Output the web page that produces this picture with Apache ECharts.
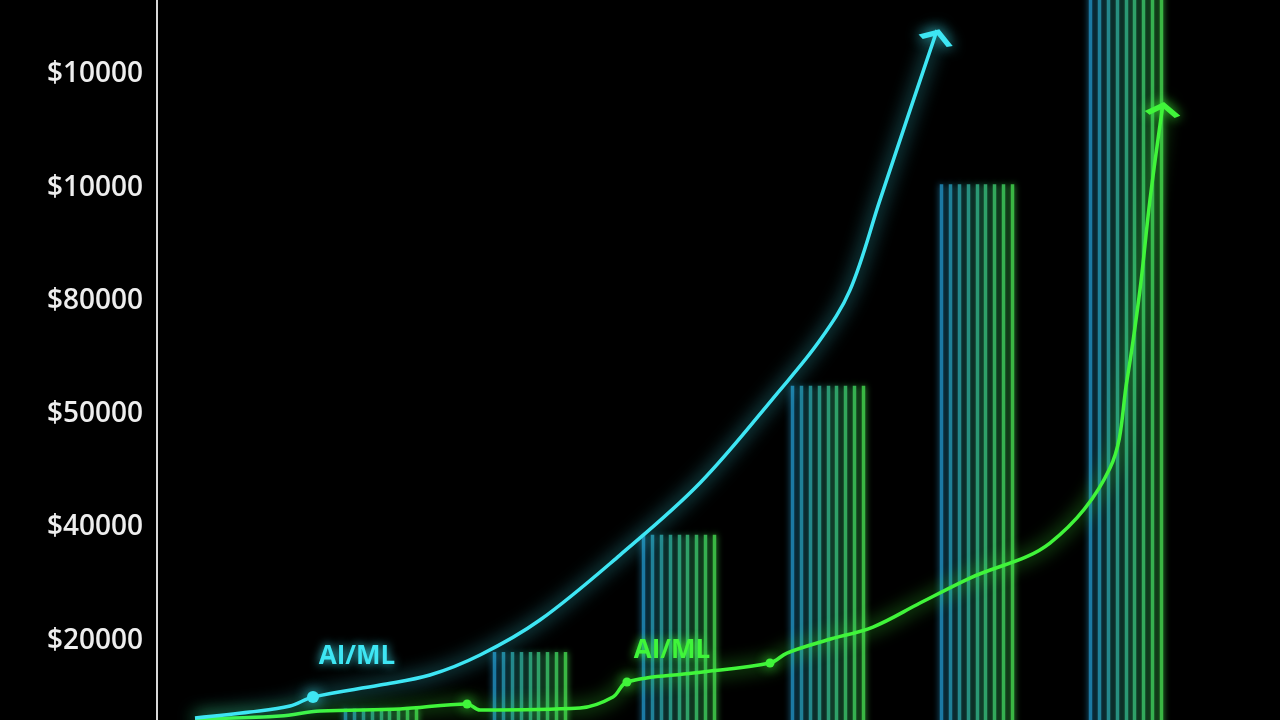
<!DOCTYPE html>
<html>
<head>
<meta charset="utf-8">
<script src="https://cdn.jsdelivr.net/npm/echarts@6/dist/echarts.min.js"></script>
<style>
html,body{margin:0;padding:0;background:#000;}
#chart{width:1280px;height:720px;}
</style>
</head>
<body>
<div id="chart"></div>
<script>
// ---- data ----
const categories = ['2018', '2019', '2020', '2021', '2022', '2023', '2024'];
const barValues = [0, 8000, 18000, 38700, 65000, 100600, 140000];
const yTickLabels = ['$0', '$20000', '$40000', '$50000', '$80000', '$10000', '$10000', ''];

const cyanX = [-0.245, 0.124, 0.393, 0.547, 0.997, 1.332, 1.668, 2.070, 2.607, 3.144, 3.681, 3.950, 4.151, 4.352, 4.554, 4.735];
const cyanY = [6350, 7410, 8470, 10060, 12180, 13940, 17470, 23650, 35120, 47830, 64250, 73070, 81900, 97780, 113670, 127790];
const cyanMarkers = [3];

const greenX = [-0.245, 0.326, 0.594, 1.131, 1.581, 1.668, 2.339, 2.560, 2.654, 3.100, 3.614, 3.728, 3.997, 4.305, 4.621, 4.956, 5.493, 5.896, 6.010, 6.097, 6.164, 6.252];
const greenY = [6180, 6710, 7590, 7940, 8830, 7770, 8120, 10060, 12710, 14300, 16060, 17830, 20120, 22420, 26650, 31060, 37240, 50480, 66010, 81900, 97780, 114900];
const greenMarkers = [4, 8, 10];

const seriesName = 'AI/ML';

// ---- styles ----
const CYAN = '#3ee6f4';
const GREEN = '#40f53a';
const STRIPE_FROM = [30, 125, 170];
const STRIPE_TO = [60, 190, 70];
const ARROW = 'path://M0,10 L10,0 L20,10 L17,12.5 L10,5.5 L3,12.5 Z';

function mix(a, b, t) {
  return 'rgb(' + a.map((v, i) => Math.round(v + (b[i] - v) * t)).join(',') + ')';
}

function buildLine(xs, ys, markers, markerSize, arrowRotate) {
  return xs.map((x, i) => {
    const item = { value: [x, ys[i]] };
    if (markers.indexOf(i) >= 0) {
      item.symbol = 'circle';
      item.symbolSize = markerSize;
    }
    if (i === xs.length - 1) {
      item.symbol = ARROW;
      item.symbolSize = [36, 23];
      item.symbolKeepAspect = true;
      item.symbolRotate = arrowRotate;
      item.symbolOffset = [0, 6];
    }
    return item;
  });
}

const chart = echarts.init(document.getElementById('chart'), null, { renderer: 'canvas' });

const option = {
  backgroundColor: '#000',
  animation: false,
  grid: {
    left: 157, right: 80, top: -39, bottom: -34,
    outerBoundsMode: 'none', containLabel: false
  },
  xAxis: [
    {
      type: 'category', data: categories,
      axisLine: { show: false }, axisTick: { show: false },
      axisLabel: { show: false }, splitLine: { show: false }
    },
    {
      type: 'value', min: -0.5, max: 6.5, show: false,
      splitLine: { show: false }
    }
  ],
  yAxis: {
    type: 'value', min: 0, max: 140000, interval: 20000,
    axisLine: { show: true, onZero: false, lineStyle: { color: '#d8d8d8', width: 2 } },
    axisTick: { show: false },
    splitLine: { show: false },
    axisLabel: {
      color: '#eeeeee', fontSize: 28, fontFamily: 'Open Sans', fontWeight: 600,
      margin: 14,
      formatter: v => yTickLabels[Math.round(v / 20000)] || ''
    }
  },
  series: [
    {
      type: 'custom',
      name: 'bars',
      xAxisIndex: 0,
      data: barValues.map((v, i) => [i, v]),
      renderItem: function (params, api) {
        const x = api.value(0), v = api.value(1);
        if (!v) return null;
        const top = api.coord([x, v]);
        const base = api.coord([x, 0]);
        const bw = api.size([1, 0])[0] * 0.5;
        const n = 9;
        const children = [];
        for (let k = 0; k < n; k++) {
          const px = Math.round(top[0] - bw / 2 + 2 + k * (bw - 4) / (n - 1)) + 0.5;
          const c = mix(STRIPE_FROM, STRIPE_TO, k / (n - 1));
          children.push({
            type: 'line',
            shape: { x1: px, y1: top[1], x2: px, y2: base[1] },
            style: { stroke: c, lineWidth: 3.5, opacity: 0.95, shadowBlur: 6, shadowColor: c }
          });
        }
        return { type: 'group', children: children };
      },
      z: 1
    },
    {
      type: 'line',
      name: seriesName,
      xAxisIndex: 1,
      smooth: 0.35,
      symbol: 'none',
      showSymbol: true,
      data: buildLine(cyanX, cyanY, cyanMarkers, 12, -18.6),
      lineStyle: { color: CYAN, width: 3.5, shadowBlur: 18, shadowColor: CYAN },
      itemStyle: { color: CYAN, shadowBlur: 14, shadowColor: CYAN },
      markPoint: {
        symbol: 'circle', symbolSize: 1,
        itemStyle: { color: 'transparent' },
        label: {
          show: true, position: 'inside', formatter: seriesName,
          color: CYAN, fontSize: 26, fontWeight: 'bold', fontFamily: 'Open Sans',
          textShadowBlur: 10, textShadowColor: CYAN
        },
        data: [{ coord: [0.842, 17120] }]
      },
      z: 3
    },
    {
      type: 'line',
      name: seriesName,
      xAxisIndex: 1,
      smooth: 0.35,
      symbol: 'none',
      showSymbol: true,
      data: buildLine(greenX, greenY, greenMarkers, 9, -7.6),
      lineStyle: { color: GREEN, width: 3.5, shadowBlur: 18, shadowColor: GREEN },
      itemStyle: { color: GREEN, shadowBlur: 12, shadowColor: GREEN },
      markPoint: {
        symbol: 'circle', symbolSize: 1,
        itemStyle: { color: 'transparent' },
        label: {
          show: true, position: 'inside', formatter: seriesName,
          color: GREEN, fontSize: 26, fontWeight: 'bold', fontFamily: 'Open Sans',
          textShadowBlur: 10, textShadowColor: GREEN
        },
        data: [{ coord: [2.956, 18180] }]
      },
      z: 2
    }
  ]
};

chart.setOption(option);
</script>
</body>
</html>
